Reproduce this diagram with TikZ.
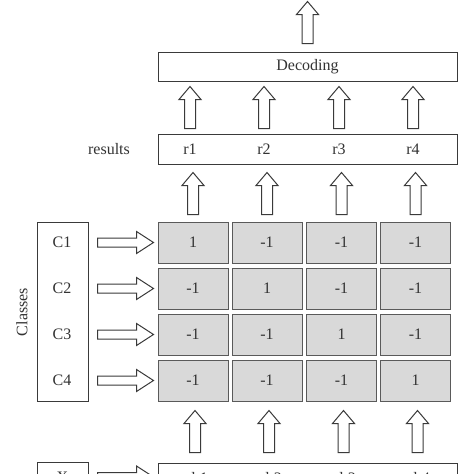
\documentclass[tikz,border=0pt]{standalone}
\usepackage{fontspec}
\setmainfont{Liberation Serif}
\usetikzlibrary{calc}
\definecolor{ln}{HTML}{3A3A3A}
\definecolor{cellln}{HTML}{5A5A5A}
\definecolor{cellfill}{HTML}{D9D9D9}
\definecolor{txt}{HTML}{333333}
\begin{document}
\begin{tikzpicture}[x=1pt,y=-1pt,
  font=\fontsize{16}{19}\selectfont,
  lbl/.style={text=txt, inner sep=0pt},
  box/.style={draw=ln, line width=1pt, inner sep=0pt, fill=white, text=txt},
  cellbox/.style={draw=cellln, line width=1pt, fill=cellfill, text=txt, minimum width=70pt, minimum height=41pt, inner sep=0pt},
  arr/.style={draw=ln, line width=1pt, fill=white, line join=miter},
  uparr/.pic={\path[arr] (-5.5,0) -- (-5.5,-29) -- (-11,-29) -- (0,-42) -- (11,-29) -- (5.5,-29) -- (5.5,0) -- cycle;},
  rtarr/.pic={\path[arr] (0,-4.5) -- (39,-4.5) -- (39,-11) -- (56,0) -- (39,11) -- (39,4.5) -- (0,4.5) -- cycle;}
]
\path[use as bounding box, clip] (0,0) rectangle (474,474);
\fill[white] (0,0) rectangle (474,474);

% Decoding and results
\node[box, minimum width=299pt, minimum height=29pt] (dec) at (307.5,66.5) {Decoding};
\node[box, minimum width=299pt, minimum height=30pt] (res) at (307.5,149) {};
\node[lbl] (reslbl) at (109,149) {results};
\node[lbl] (r1) at (190,149) {r1};
\node[lbl] (r2) at (264,149) {r2};
\node[lbl] (r3) at (339,149) {r3};
\node[lbl] (r4) at (413,149) {r4};

% code matrix
\foreach \r/\y/\a/\b/\c/\d in {1/242.5/1/-1/-1/-1, 2/288.5/-1/1/-1/-1, 3/334.5/-1/-1/1/-1, 4/380.5/-1/-1/-1/1}{
  \node[cellbox] (m\r1) at (193,\y) {\a};
  \node[cellbox] (m\r2) at (267,\y) {\b};
  \node[cellbox] (m\r3) at (341.5,\y) {\c};
  \node[cellbox] (m\r4) at (415.5,\y) {\d};
}

% classes
\node[box, minimum width=51pt, minimum height=179pt] (cls) at (62.5,311.5) {};
\node[lbl, rotate=90] (clslbl) at (22,312) {Classes};
\node[lbl] (c1) at (62,242.5) {C1};
\node[lbl] (c2) at (62,288.5) {C2};
\node[lbl] (c3) at (62,334.5) {C3};
\node[lbl] (c4) at (62,380.5) {C4};

% bottom (cut off)
\node[box, minimum width=51pt, minimum height=30pt] (xbox) at (62.5,477) {X};
\node[box, minimum width=299pt, minimum height=32pt] (clbox) at (307.5,479) {};
\node[lbl] (cl1) at (196,478) {cl 1};
\node[lbl] (cl2) at (270,478) {cl 2};
\node[lbl] (cl3) at (344,478) {cl 3};
\node[lbl] (cl4) at (418,478) {cl 4};

% block arrows
\pic at ($(dec.north)+(0,-8)$) {uparr};
\foreach \x in {r1,r2,r3,r4}{
  \pic at ($(\x |- dec.south)+(0,47)$) {uparr};
}
\foreach \j in {1,2,3,4}{
  \pic at ($(m1\j.north)+(0,-7)$) {uparr};
  \pic at ($(m4\j.south)+(2,51)$) {uparr};
}
\foreach \r in {1,2,3,4}{
  \pic at ($(cls.east |- m\r1.west)+(9,0)$) {rtarr};
}
\pic at ($(xbox.east)+(9,0)$) {rtarr};
\end{tikzpicture}
\end{document}
